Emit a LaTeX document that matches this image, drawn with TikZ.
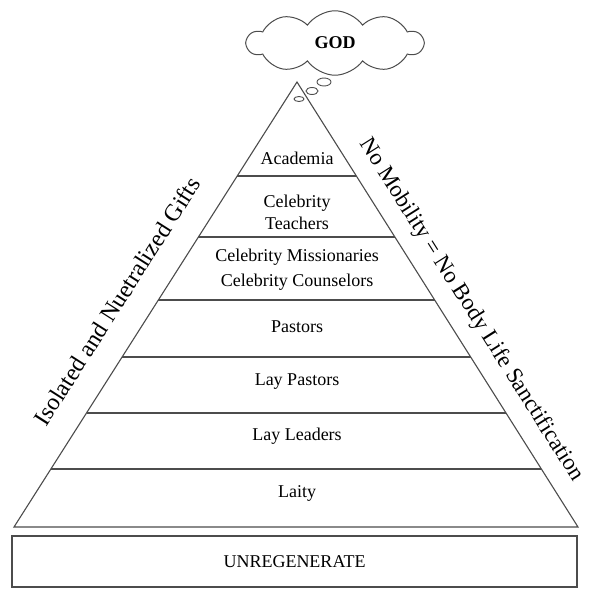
\documentclass[tikz,border=0pt]{standalone}
\usepackage{fontspec}
\setmainfont{Liberation Serif}
\usetikzlibrary{calc,shapes.symbols,shapes.geometric}

\begin{document}
\begin{tikzpicture}
[x=1pt,y=-1pt,
  lineDecorate/.style={draw=black!70,line width=1.1pt},
  tierText/.style={font=\fontsize{18}{22}\selectfont,align=center,inner sep=0pt},
  sideText/.style={font=\fontsize{24}{28}\selectfont,anchor=base,inner sep=0pt},
  bubbleDecorate/.style={shape=ellipse,draw=black!70,line width=0.9pt,inner sep=0pt}]
\useasboundingbox (0,0) rectangle (592,599);
%% corners of the pyramid
\coordinate (apex) at (297,82);
\coordinate (baseL) at (14,527);
\coordinate (baseR) at (578,527);
\draw[lineDecorate] (apex) -- (baseR) -- (baseL) -- cycle;
%% tier lines
\foreach \tier/\ratio in {1/0.2112, 2/0.3483, 3/0.4899, 4/0.6180, 5/0.7438, 6/0.8697}
{
  \coordinate (l\tier) at ($(apex)!\ratio!(baseL)$);
  \coordinate (r\tier) at ($(apex)!\ratio!(baseR)$);
  \draw[lineDecorate] (l\tier) -- (r\tier);
}
%% tier labels
\foreach \nodename/\y/\txt in {
  academia/158/Academia, teachers/212/{Celebrity\\Teachers},
  celebs/270/{Celebrity Missionaries\\[3pt]Celebrity Counselors},
  pastors/327/Pastors, laypastors/382/Lay Pastors,
  layleaders/436/Lay Leaders, laity/493/Laity}
{
  \node[tierText] (\nodename) at (297,\y) {\txt};
}
%% base box
\node[tierText,lineDecorate,minimum width=565pt,minimum height=51pt]
  (unregen) at (294.5,561.5) {UNREGENERATE};
%% cloud and bubbles
\node[cloud,draw=black!70,line width=1pt,cloud puffs=10,cloud puff arc=110,
  minimum width=176pt,minimum height=63pt,inner sep=0pt,
  font=\bfseries\fontsize{18}{22}\selectfont] (god) at (335,43) {GOD};
\foreach \bub/\x/\y/\w/\h in {b1/299/99/10/5, b2/312/91/12/7, b3/324/82/14/8}
{
  \node[bubbleDecorate,minimum width=\w pt,minimum height=\h pt] (\bub) at (\x,\y) {};
}
%% slanted side labels
\coordinate (giftsFoot) at ($(baseL)!0.466!(apex)$);
\node[sideText,rotate=57.5] (gifts) at ($(giftsFoot)!26pt!90:(apex)$)
  {Isolated and Nuetralized Gifts};
\coordinate (mobilityFoot) at ($(apex)!0.543!(baseR)$);
\node[sideText,font=\fontsize{23}{27}\selectfont,rotate=-57.7] (mobility)
  at ($(mobilityFoot)!20pt!90:(baseR)$)
  {No Mobility = No Body Life Sanctification};
\end{tikzpicture}
\end{document}
